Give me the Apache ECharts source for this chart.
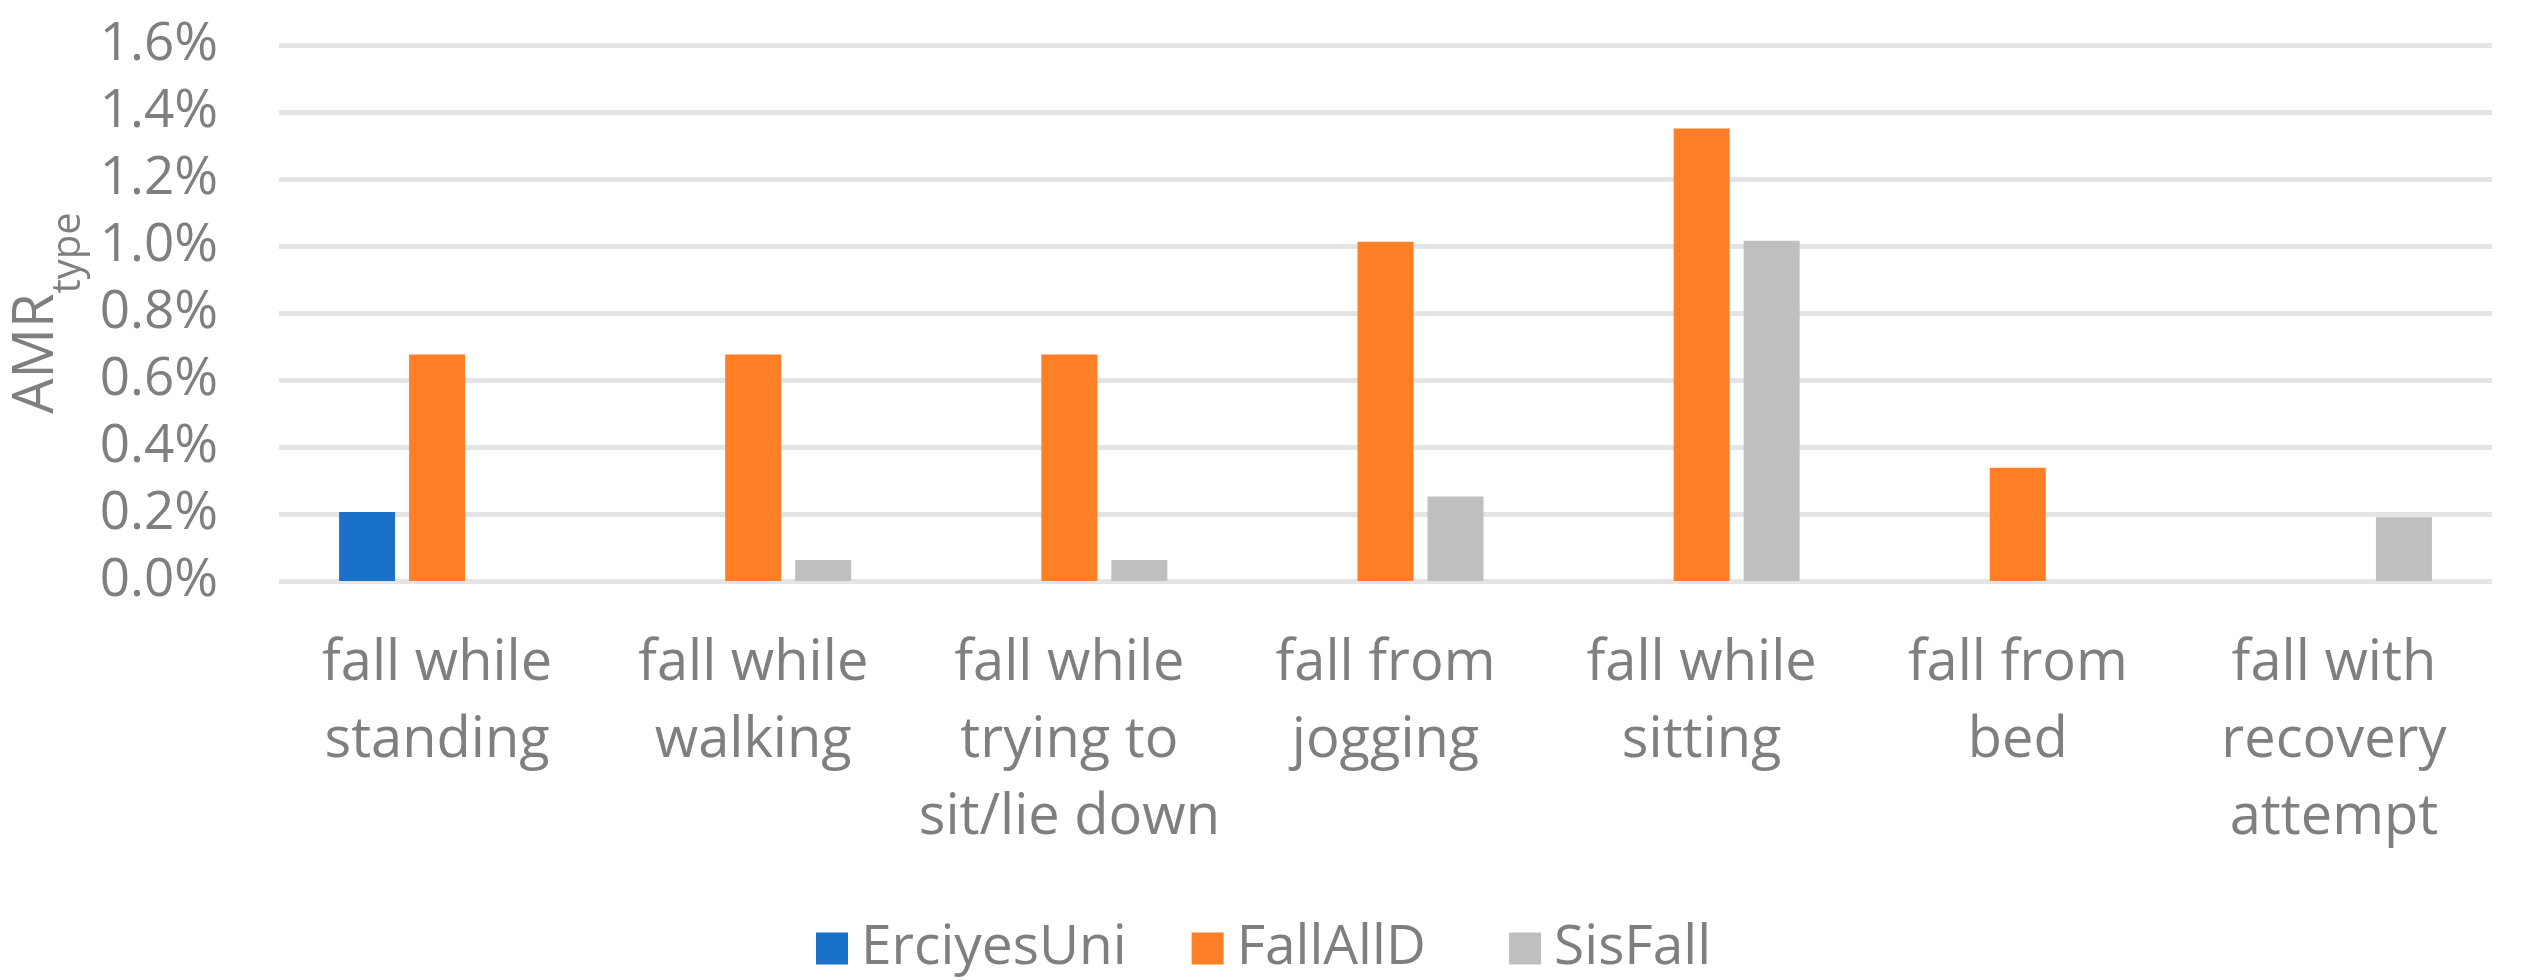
<!DOCTYPE html>
<html>
<head>
<meta charset="utf-8">
<script src="https://cdn.jsdelivr.net/npm/echarts@6/dist/echarts.min.js"></script>
<style>
html,body{margin:0;padding:0;background:#fff;}
#chart{width:2529px;height:980px;}
</style>
</head>
<body>
<div id="chart"></div>
<script>
const categories = [
  'fall while\nstanding',
  'fall while\nwalking',
  'fall while\ntrying to\nsit/lie down',
  'fall from\njogging',
  'fall while\nsitting',
  'fall from\nbed',
  'fall with\nrecovery\nattempt'
];
const erciyesUni = [0.206, 0, 0, 0, 0, 0, 0];
const fallAllD = [0.676, 0.676, 0.676, 1.013, 1.351, 0.338, 0];
const sisFall = [0, 0.063, 0.063, 0.252, 1.016, 0, 0.19];
const seriesNames = ['ErciyesUni', 'FallAllD', 'SisFall'];

const FONT = 'Open Sans';
const TXT = '#7f7f7f';
const colors = ['#1a71c8', '#ff7f27', '#bfbfbf'];

const chart = echarts.init(document.getElementById('chart'));
const mk = (name, data, color) => ({
  name: name,
  type: 'bar',
  data: data,
  barWidth: 56,
  barGap: '25%',
  itemStyle: { color: color },
  emphasis: { disabled: true }
});
chart.setOption({
  animation: false,
  color: colors,
  grid: { left: 279, right: 37, top: 45, bottom: 399, containLabel: false, outerBoundsMode: 'none' },
  legend: {
    data: seriesNames,
    left: 811,
    top: 916,
    icon: 'rect',
    itemWidth: 32,
    itemHeight: 32,
    itemGap: 65,
    formatter: name => name === 'FallAllD' ? name + '\u2004' : name,
    textStyle: { fontFamily: FONT, fontSize: 55, color: TXT, padding: [0, 0, 0, 8] }
  },
  xAxis: {
    type: 'category',
    data: categories,
    axisLine: { show: false },
    axisTick: { show: false },
    axisLabel: {
      interval: 0,
      margin: 45,
      fontFamily: FONT,
      fontSize: 56,
      lineHeight: 77,
      color: TXT,
      verticalAlign: 'top'
    }
  },
  yAxis: {
    type: 'value',
    min: 0,
    max: 1.6,
    interval: 0.2,
    name: '{a|AMR}{b|type}',
    nameLocation: 'middle',
    nameRotate: 90,
    nameGap: 184,
    nameTextStyle: {
      rich: {
        a: { fontFamily: FONT, fontSize: 56, color: TXT, lineHeight: 80, verticalAlign: 'top' },
        b: { fontFamily: FONT, fontSize: 40, color: TXT, lineHeight: 40, verticalAlign: 'bottom' }
      }
    },
    axisLine: { show: false },
    axisTick: { show: false },
    splitLine: { lineStyle: { color: '#e4e4e4', width: 5 } },
    axisLabel: {
      margin: 61,
      fontFamily: FONT,
      fontSize: 53,
      color: TXT,
      formatter: v => v.toFixed(1) + '%'
    }
  },
  series: [
    mk(seriesNames[0], erciyesUni, colors[0]),
    mk(seriesNames[1], fallAllD, colors[1]),
    mk(seriesNames[2], sisFall, colors[2])
  ]
});
</script>
</body>
</html>
